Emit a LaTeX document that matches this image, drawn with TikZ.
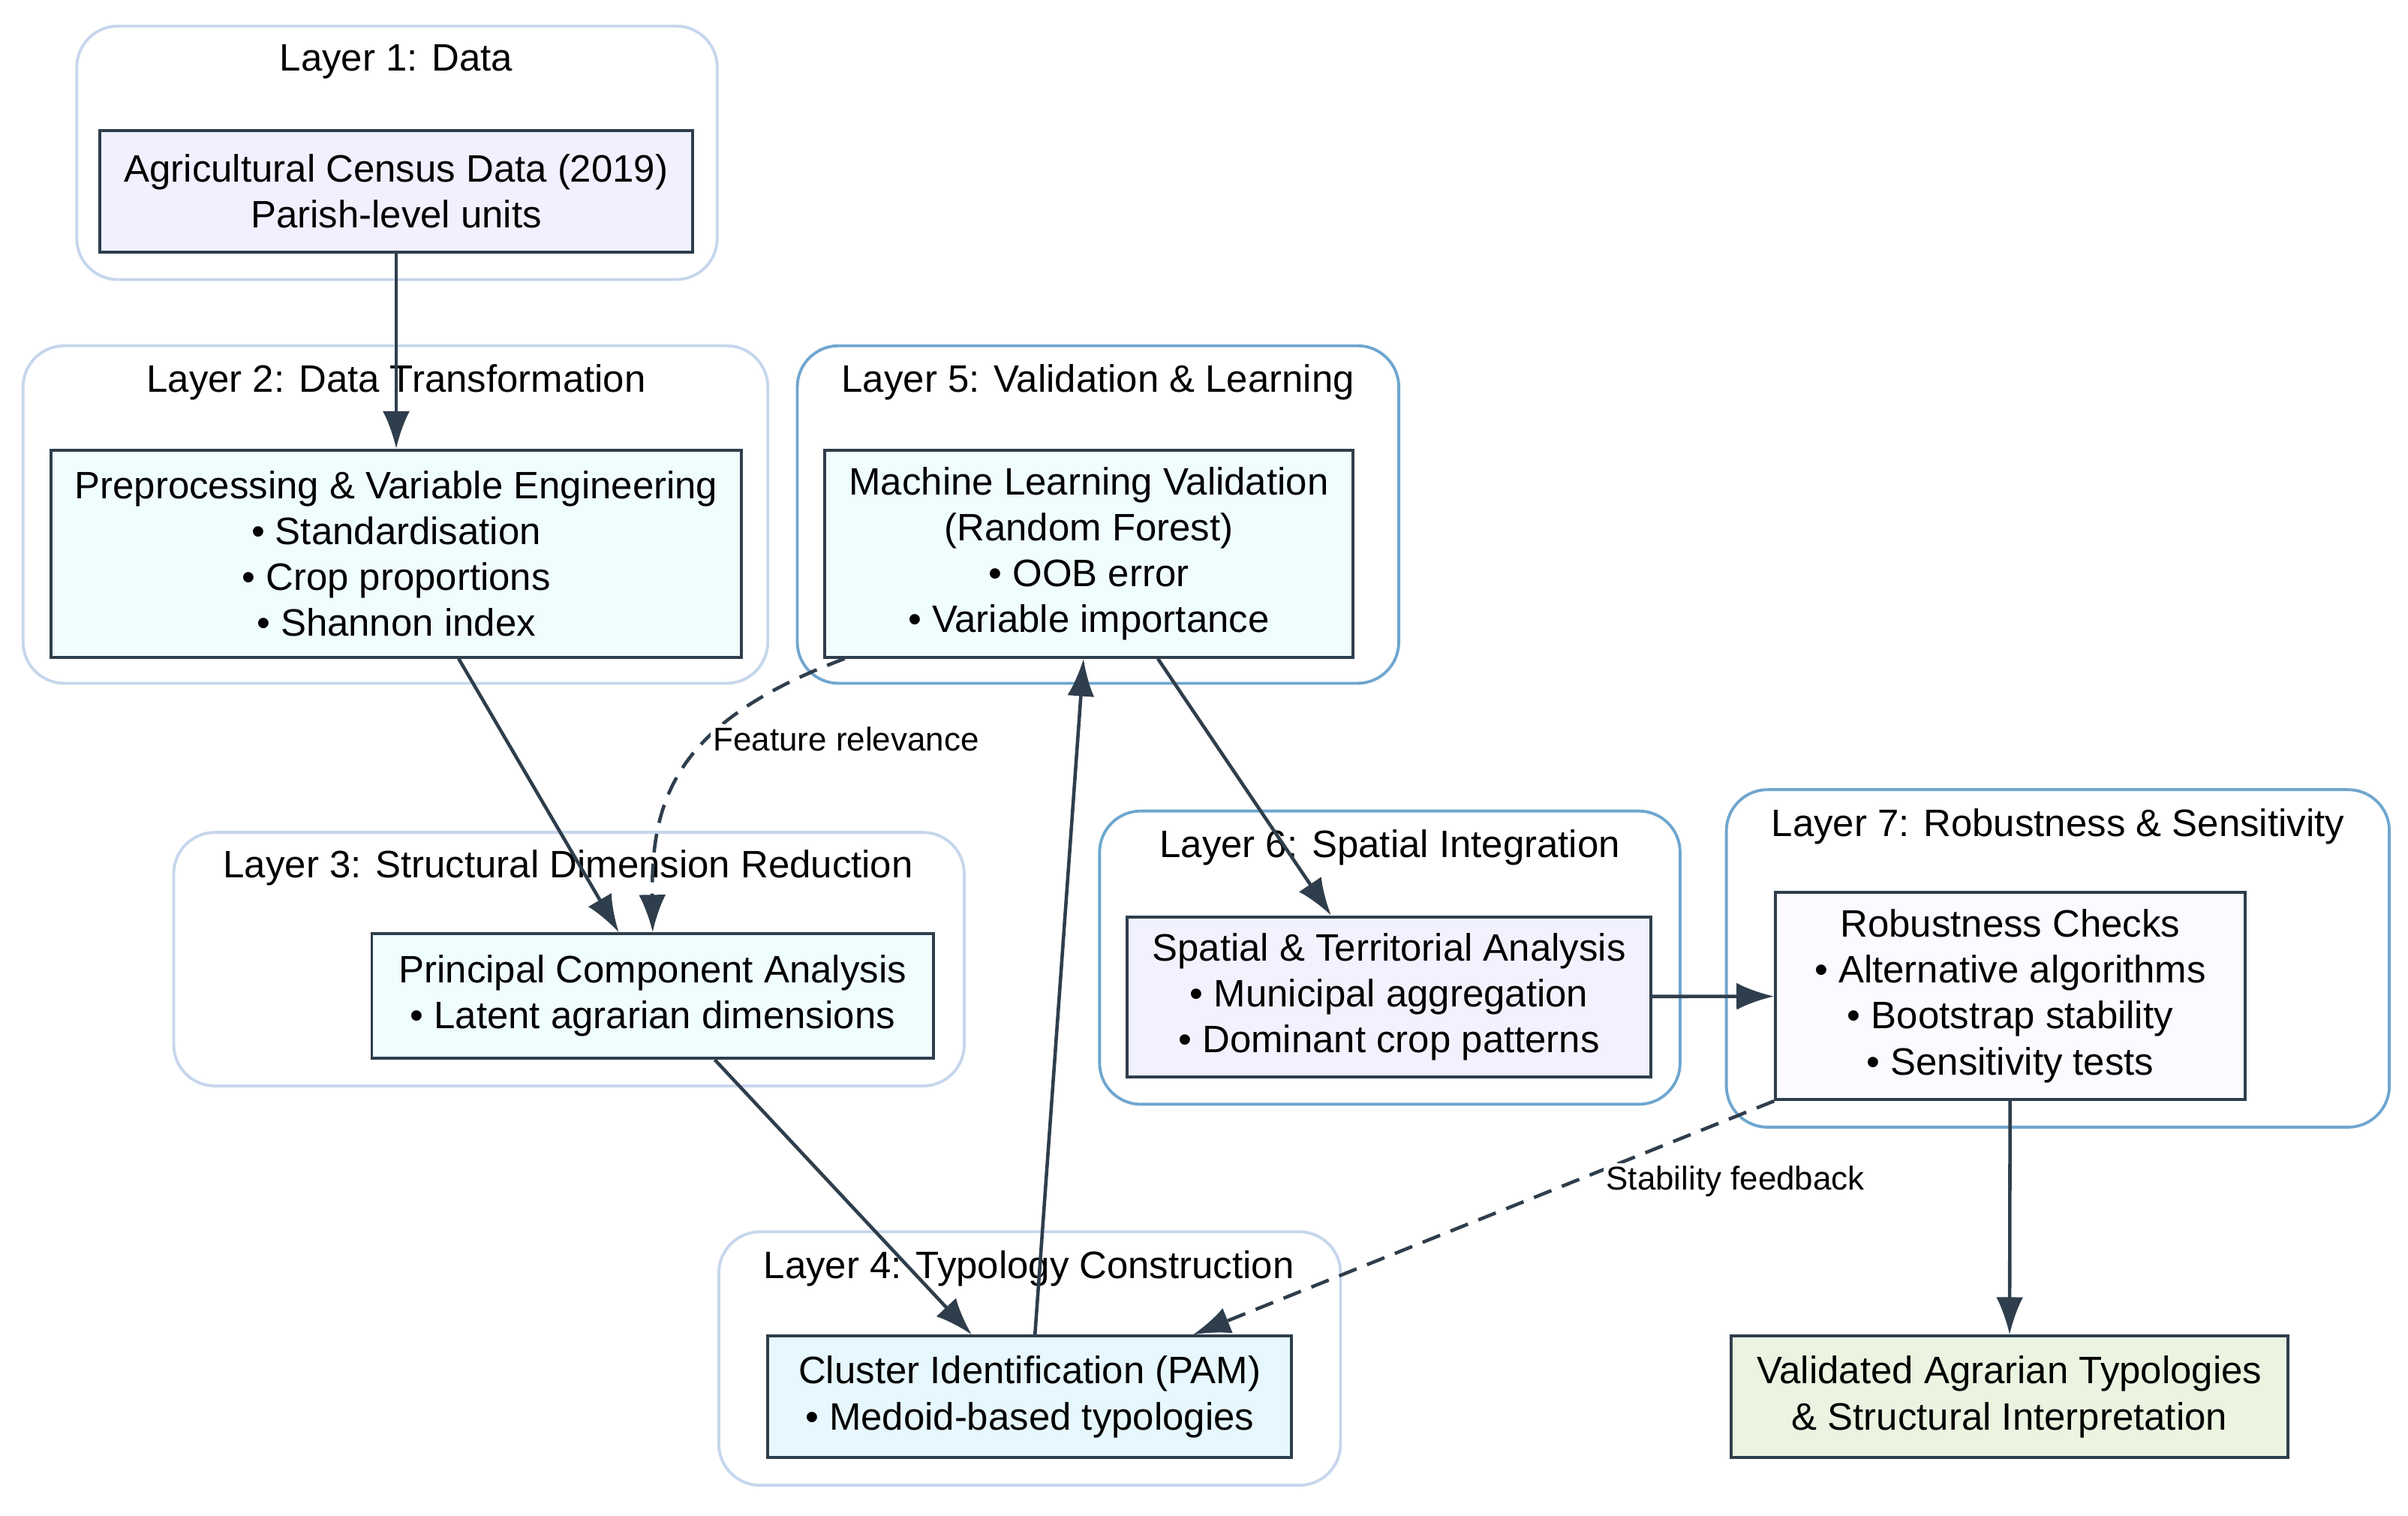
\documentclass[tikz,border=0pt]{standalone}
\usepackage{fontspec}
\setmainfont{Liberation Sans}
\usetikzlibrary{calc,arrows.meta,positioning}
\definecolor{edgecol}{HTML}{2F3E4C}
\definecolor{palebord}{HTML}{C6D6EC}
\definecolor{bluebord}{HTML}{6FA6CF}
\tikzset{
    layer/.style = {draw, rounded corners=0.55cm, line width=1.1pt},
    title/.style = {font=\fontsize{14.5}{17}\selectfont, anchor=center},
    block/.style = {draw=edgecol, rectangle, line width=1.1pt, align=center,
        font=\fontsize{14.5}{17.4}\selectfont, inner sep=0pt},
    arrow/.style = {draw=edgecol, line width=1.3pt, -{Latex[length=0.5cm,width=0.36cm]}},
    dashedarrow/.style = {arrow, dash pattern=on 0.25cm off 0.15cm},
    elabel/.style = {font=\fontsize{12.5}{15}\selectfont, fill=white, inner sep=1pt}
}
\begin{document}
\begin{tikzpicture}[x=0.02047cm, y=-0.02047cm]
                \useasboundingbox (0,0) rectangle (1568,987);
                % layers
                \node[layer, draw=palebord, minimum width=8.54cm, minimum height=3.38cm] (l1) at (258.5,99.5) {};
                \node[layer, draw=palebord, minimum width=9.93cm, minimum height=4.50cm] (l2) at (257.5,335) {};
                \node[layer, draw=bluebord, minimum width=8.02cm, minimum height=4.50cm] (l5) at (715,335) {};
                \node[layer, draw=palebord, minimum width=10.54cm, minimum height=3.38cm] (l3) at (370.5,624.5) {};
                \node[layer, draw=bluebord, minimum width=7.74cm, minimum height=3.91cm] (l6) at (905,623.5) {};
                \node[layer, draw=bluebord, minimum width=8.84cm, minimum height=4.50cm] (l7) at (1340,624) {};
                \node[layer, draw=palebord, minimum width=8.29cm, minimum height=3.38cm] (l4) at (670.5,884.5) {};
                \node[title] (t1) at (258,40) {Layer 1: Data};
                \node[title] (t2) at (258,249) {Layer 2: Data Transformation};
                \node[title] (t5) at (715,249) {Layer 5: Validation \& Learning};
                \node[title] (t3) at (370,565) {Layer 3: Structural Dimension Reduction};
                \node[title] (t6) at (905,552) {Layer 6: Spatial Integration};
                \node[title] (t7) at (1340,538) {Layer 7: Robustness \& Sensitivity};
                \node[title] (t4) at (670,826) {Layer 4: Typology Construction};
                % blocks
                \node[block, fill=blue!6, minimum width=7.90cm, minimum height=1.62cm] (census) at (258,124.5)
                    {Agricultural Census Data (2019)\\Parish-level units};
                \node[block, fill=blue!10!cyan!6, minimum width=9.21cm, minimum height=2.76cm] (prep) at (258,360.5)
                    {Preprocessing \& Variable Engineering\\• Standardisation\\• Crop proportions\\• Shannon index};
                \node[block, fill=blue!10!cyan!6, minimum width=7.04cm, minimum height=2.76cm] (rf) at (709,360.5)
                    {Machine Learning Validation\\(Random Forest)\\• OOB error\\• Variable importance};
                \node[block, fill=blue!14!cyan!6, minimum width=7.49cm, minimum height=1.66cm] (pca) at (425,648.5)
                    {Principal Component Analysis\\• Latent agrarian dimensions};
                \node[block, fill=blue!5, minimum width=6.98cm, minimum height=2.13cm] (spat) at (904.5,649)
                    {Spatial \& Territorial Analysis\\• Municipal aggregation\\• Dominant crop patterns};
                \node[block, fill=blue!2, minimum width=6.26cm, minimum height=2.76cm] (robust) at (1309,648.5)
                    {Robustness Checks\\• Alternative algorithms\\• Bootstrap stability\\• Sensitivity tests};
                \node[block, fill=cyan!10, minimum width=6.98cm, minimum height=1.62cm] (pam) at (670.5,909.5)
                    {Cluster Identification (PAM)\\• Medoid-based typologies};
                \node[block, fill=green!30!olive!12, minimum width=7.43cm, minimum height=1.62cm] (final) at (1308.5,909.5)
                    {Validated Agrarian Typologies\\\& Structural Interpretation};
                % connectors
                \draw[arrow] (census) -- (prep);
                \draw[arrow] ($(prep.south west)!0.59!(prep.south east)$) -- ($(pca.north west)!0.44!(pca.north east)$);
                \draw[dashedarrow] ($(rf.south west)!0.04!(rf.south east)$) .. controls (440,470) and (424,520) .. (pca.north);
                \node[elabel] (fr) at (551,481) {Feature relevance};
                \draw[arrow] ($(pca.south west)!0.61!(pca.south east)$) -- ($(pam.north west)!0.39!(pam.north east)$);
                \draw[arrow] ($(pam.north west)!0.51!(pam.north east)$) -- ($(rf.south west)!0.49!(rf.south east)$);
                \draw[arrow] ($(rf.south west)!0.63!(rf.south east)$) -- ($(spat.north west)!0.39!(spat.north east)$);
                \draw[arrow] (spat) -- (robust);
                \draw[dashedarrow] (robust.south west) -- ($(pam.north west)!0.81!(pam.north east)$);
                \node[elabel] (sf) at (1130,769) {Stability feedback};
                \draw[arrow] (robust) -- (final);
            \end{tikzpicture}
\end{document}
